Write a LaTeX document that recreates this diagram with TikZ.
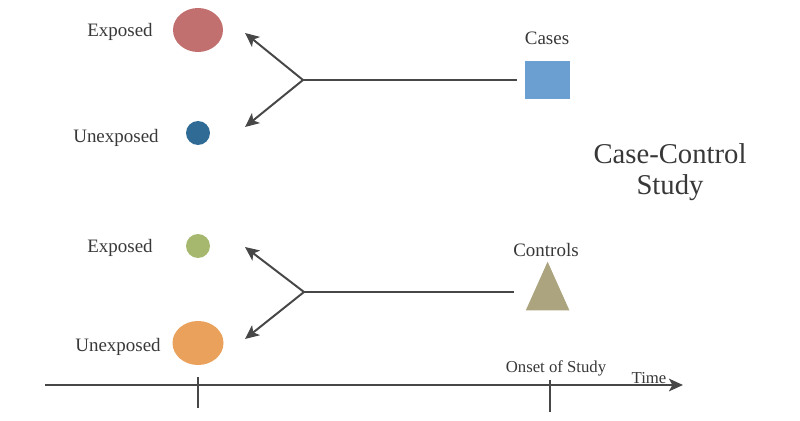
\documentclass[tikz,border=0pt]{standalone}
\usepackage{fontspec}
\setmainfont{Liberation Serif}
\usepackage{tikz}
\usetikzlibrary{positioning, shapes.geometric, arrows.meta}

\definecolor{linegray}{HTML}{474747}
\definecolor{textgray}{HTML}{383838}
\definecolor{expred}{HTML}{C2706F}
\definecolor{unexpblue}{HTML}{2F6B95}
\definecolor{casesblue}{HTML}{6C9FD1}
\definecolor{expgreen}{HTML}{A5B86E}
\definecolor{unexporange}{HTML}{E9A15C}
\definecolor{ctrlkhaki}{HTML}{ABA47F}

\begin{document}
\begin{tikzpicture}[
    line/.style={draw=linegray, line width=1.4pt},
    arr/.style={line, -{Stealth[length=10pt, width=9pt, inset=2.5pt]}},
    lbl/.style={text=textgray, font=\fontsize{13.5}{16}\selectfont},
    small/.style={text=textgray, font=\fontsize{11.9}{14}\selectfont},
    dot/.style={circle, inner sep=0pt}
  ]
      \useasboundingbox (0, 0) rectangle (20, 10.5);
      % Cases
      \node[fill=casesblue, minimum width=1.125cm, minimum height=0.95cm] (cases) at (13.675, 8.5) {};
      \node[lbl] (caseslbl) at (13.675, 9.55) {Cases};
      \node[ellipse, fill=expred, minimum width=1.25cm, minimum height=1.1cm, inner sep=0pt] (expA) at (4.95, 9.75) {};
      \node[dot, fill=unexpblue, minimum size=0.6cm] (unexpA) at (4.95, 7.175) {};
      \node[lbl] (expAlbl) at (3.0, 9.7) {Exposed};
      \node[lbl] (unexpAlbl) at (2.9, 7.05) {Unexposed};
      \coordinate (brA) at (7.575, 8.5);
      \coordinate (tipA1) at (6.125, 9.675);
      \coordinate (tipA2) at (6.125, 7.325);
      \draw[line, shorten >=0.175cm] (brA) -- (brA -| cases.west);
      \draw[arr] (brA) -- (tipA1);
      \draw[arr] (brA) -- (tipA2);
      % Title
      \node[text=textgray, font=\fontsize{20.4}{22}\selectfont, align=center] (title) at (16.75, 6.2) {Case-Control\\Study};
      % Controls
      \node[minimum width=1.075cm, minimum height=1.2cm, inner sep=0pt] (ctrl) at (13.69, 3.35) {};
      \fill[ctrlkhaki] (ctrl.south west) -- (ctrl.south east) -- (ctrl.north) -- cycle;
      \node[lbl] (ctrllbl) at (13.65, 4.25) {Controls};
      \node[dot, fill=expgreen, minimum size=0.6cm] (expB) at (4.95, 4.35) {};
      \node[ellipse, fill=unexporange, minimum width=1.275cm, minimum height=1.1cm, inner sep=0pt] (unexpB) at (4.95, 1.925) {};
      \node[lbl] (expBlbl) at (3.0, 4.3) {Exposed};
      \node[lbl] (unexpBlbl) at (2.95, 1.825) {Unexposed};
      \coordinate (brB) at (7.6, 3.2);
      \coordinate (tipB1) at (6.125, 4.325);
      \coordinate (tipB2) at (6.125, 2.025);
      \draw[line, shorten >=0.3cm] (brB) -- (brB -| ctrl.west);
      \draw[arr] (brB) -- (tipB1);
      \draw[arr] (brB) -- (tipB2);
      % Time axis
      \coordinate (t0) at (1.125, 0.875);
      \coordinate (t1) at (17.075, 0.875);
      \draw[arr] (t0) -- (t1);
      \coordinate (tickA) at (4.95, 1.075);
      \coordinate (tickB) at (13.75, 1.0);
      \draw[line] (tickA) -- ++(0, -0.775);
      \draw[line] (tickB) -- ++(0, -0.8);
      \node[small] (onset) at (13.9, 1.3) {Onset of Study};
      \node[small] (time) at (16.225, 1.05) {Time};
    \end{tikzpicture}
\end{document}
